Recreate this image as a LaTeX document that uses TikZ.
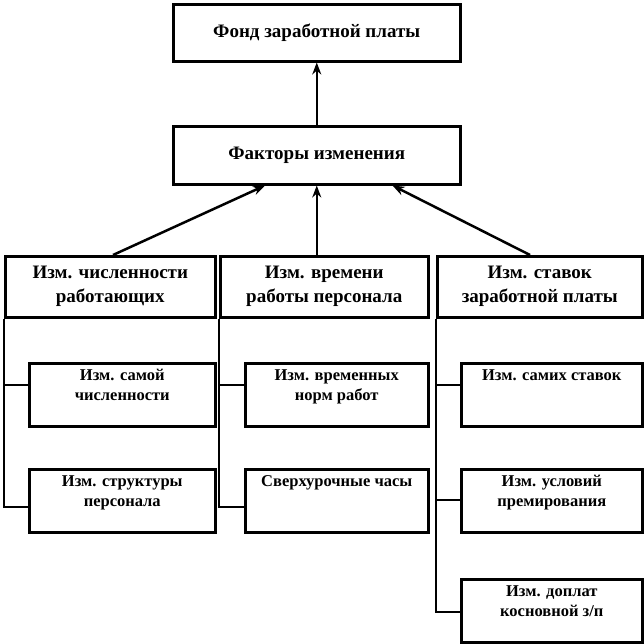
\documentclass[tikz,border=0pt]{standalone}
\usepackage{fontspec}
\setmainfont{Liberation Serif}
\usetikzlibrary{arrows.meta}
\begin{document}
\begin{tikzpicture}[x=1pt, y=-1pt, >={Stealth[length=12pt,width=9pt]}, line width=2.5pt]

    \tikzset{%
    box/.style={draw, rectangle, anchor=north west, inner sep=0pt},
    title/.style={font=\bfseries\fontsize{19}{24}\selectfont, align=center},
    small/.style={font=\bfseries\fontsize{16.5}{20}\selectfont, align=center},
    }

    \useasboundingbox (0,0) rectangle (644,643);

    % Top boxes
    \node [box, minimum width=287, minimum height=57] (fund) at (172,3) {};
    \node [title] at (fund.center) {Фонд заработной платы};
    \node [box, minimum width=287, minimum height=58] (fact) at (172,125) {};
    \node [title] at (fact.center) {Факторы изменения};

    % Column boxes
    \node [box, minimum width=210, minimum height=61] (col-1) at (4,255) {};
    \node [box, minimum width=208, minimum height=61] (col-2) at (219,255) {};
    \node [box, minimum width=205, minimum height=61] (col-3) at (436,255) {};
    \node [title] at (col-1.center) {Изм. численности\\работающих};
    \node [title] at (col-2.center) {Изм. времени\\работы персонала};
    \node [title] at (col-3.center) {Изм. ставок\\заработной платы};

    % Sub boxes
    \foreach \c/\k/\x/\y/\w in {1/1/28/362/186, 1/2/28/468/186, 2/1/244/362/183,
        2/2/244/468/183, 3/1/460/362/181, 3/2/460/468/181, 3/3/460/578/181}
    \node [box, minimum width=\w, minimum height=63] (sub-\c-\k) at (\x,\y) {};

    \foreach \c/\k/\t in {1/1/{Изм. самой\\численности}, 1/2/{Изм. структуры\\персонала},
        2/1/{Изм. временных\\норм работ}, 2/2/{Сверхурочные часы},
        3/1/{Изм. самих ставок}, 3/2/{Изм. условий\\премирования}, 3/3/{Изм. доплат\\косновной з/п}}
    \node [small, below] at ([yshift=-3pt]sub-\c-\k.north) {\t};

    % Side lines to sub boxes
    \coordinate (tick-1-1) at (5,385);
    \coordinate (tick-1-2) at (5,507);
    \coordinate (tick-2-1) at (220,385);
    \coordinate (tick-2-2) at (220,507);
    \coordinate (tick-3-1) at (437,385);
    \coordinate (tick-3-2) at (437,500);
    \coordinate (tick-3-3) at (437,612);
    \draw (col-1.south west) |- (tick-1-2) -- (sub-1-2.west |- tick-1-2);
    \draw (tick-1-1) -- (sub-1-1.west |- tick-1-1);
    \draw (col-2.south west) |- (tick-2-2) -- (sub-2-2.west |- tick-2-2);
    \draw (tick-2-1) -- (sub-2-1.west |- tick-2-1);
    \draw (col-3.south west) |- (tick-3-3) -- (sub-3-3.west |- tick-3-3);
    \draw (tick-3-1) -- (sub-3-1.west |- tick-3-1);
    \draw (tick-3-2) -- (sub-3-2.west |- tick-3-2);

    % Arrows
    \draw [->] ([xshift=109pt]col-1.north west) -- ([xshift=93pt]fact.south west);
    \draw [->] (col-2.north -| fact.south) -- (fact.south);
    \draw [->] ([xshift=94pt]col-3.north west) -- ([xshift=-69pt]fact.south east);
    \draw [->] (fact.north) -- (fund.south);

\end{tikzpicture}
\end{document}
